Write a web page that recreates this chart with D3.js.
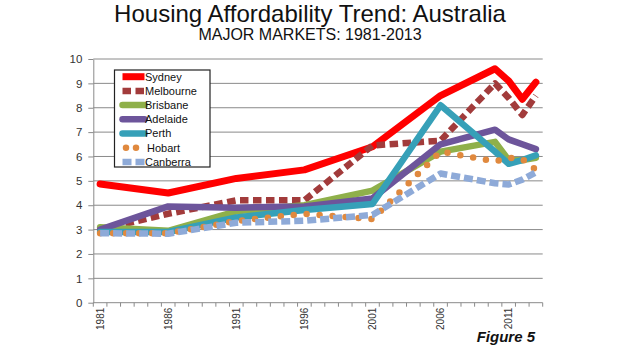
<!DOCTYPE html>
<html lang="en">
<head>
<meta charset="UTF-8">
<title>Housing Affordability Trend: Australia</title>
<script src="https://cdn.jsdelivr.net/npm/d3@7"></script>
<style>
  body { margin: 0; background: #fff; }
  text { font-family: "Liberation Sans", Arial, sans-serif; }
</style>
</head>
<body>
<svg id="chart" width="620" height="349"></svg>
<script>
// categories on the x axis (one per year) and the labelled ones
const years = d3.range(1981, 2014);
const tickYears = [1981, 1986, 1991, 1996, 2001, 2006, 2011];

// years that carry a value in each series
const dataYears = [1981, 1986, 1991, 1996, 2001, 2006, 2010, 2011, 2012, 2013];

const sydney    = [4.87, 4.50, 5.10, 5.45, 6.40, 8.50, 9.60, 9.10, 8.35, 9.05];
const melbourne = [3.00, 3.65, 4.20, 4.20, 6.45, 6.65, 9.00, 8.40, 7.70, 8.50];
const brisbane  = [3.10, 2.95, 3.75, 4.00, 4.60, 6.20, 6.60, 5.85, 5.85, 5.95];
const adelaide  = [3.00, 3.95, 3.90, 3.95, 4.28, 6.50, 7.10, 6.70, 6.50, 6.30];
const perth     = [2.90, 2.90, 3.50, 3.80, 4.05, 8.10, 6.20, 5.70, 5.85, 6.05];
const hobart    = [2.85, 2.85, 3.35, 3.65, 3.43, 6.20, 5.80, 5.95, 5.90, 5.45];
const canberra  = [2.85, 2.83, 3.28, 3.36, 3.60, 5.30, 4.90, 4.85, 5.05, 5.35];

const seriesNames = ["Sydney", "Melbourne", "Brisbane", "Adelaide", "Perth", "Hobart", "Canberra"];
const yTicks = d3.range(0, 11);

const styles = {
  Sydney:    { color: "#ff0000", width: 7,   dash: null,     cap: "round" },
  Melbourne: { color: "#a23b3b", width: 6.5, dash: "8.5 4.5", cap: "butt" },
  Brisbane:  { color: "#8fb04a", width: 6.5, dash: null,     cap: "round" },
  Adelaide:  { color: "#6d559b", width: 6.5, dash: null,     cap: "round" },
  Perth:     { color: "#36a0b8", width: 6.5, dash: null,     cap: "round" },
  Hobart:    { color: "#e0893e", width: 6.5, dash: "0 13",   cap: "round" },
  Canberra:  { color: "#8eaad8", width: 6.5, dash: "9 4",    cap: "butt" }
};

const values = [sydney, melbourne, brisbane, adelaide, perth, hobart, canberra];
const series = seriesNames.map((name, i) => ({
  name: name,
  points: dataYears.map((yr, j) => ({ year: yr, v: values[i][j] }))
}));

const svg = d3.select("#chart");

const plotLeft = 93.3, plotRight = 542.7, plotTop = 59, plotBottom = 302.7;

const x = d3.scaleBand().domain(years).range([plotLeft, plotRight]);
const y = d3.scaleLinear().domain([0, 10]).range([plotBottom, plotTop]);
const cx = d => x(d) + x.bandwidth() / 2;

// titles
svg.append("text")
  .attr("x", 310).attr("y", 22)
  .attr("text-anchor", "middle")
  .attr("font-size", 24)
  .attr("fill", "#111")
  .text("Housing Affordability Trend: Australia");

svg.append("text")
  .attr("x", 310).attr("y", 39.5)
  .attr("text-anchor", "middle")
  .attr("font-size", 16)
  .attr("fill", "#111")
  .text("MAJOR MARKETS: 1981-2013");

// gridlines
svg.append("g")
  .selectAll("line")
  .data(yTicks.filter(t => t > 0))
  .enter()
  .append("line")
  .attr("x1", plotLeft).attr("x2", plotRight)
  .attr("y1", d => y(d)).attr("y2", d => y(d))
  .attr("stroke", "#8a8a8a")
  .attr("stroke-width", 1);

// y axis
const yAxis = svg.append("g")
  .attr("transform", `translate(${plotLeft},0)`)
  .call(d3.axisLeft(y).tickValues(yTicks).tickSize(5).tickSizeOuter(0).tickPadding(6));
yAxis.select(".domain").attr("stroke", "#8a8a8a");
yAxis.selectAll(".tick line").attr("stroke", "#8a8a8a");
yAxis.selectAll(".tick text")
  .attr("font-size", 11.5)
  .attr("fill", "#333")
  .attr("font-family", "Liberation Sans, Arial, sans-serif");

// x axis: line, ticks between categories, labels every five years
const xg = svg.append("g");
xg.append("line")
  .attr("x1", plotLeft).attr("x2", plotRight)
  .attr("y1", plotBottom).attr("y2", plotBottom)
  .attr("stroke", "#8a8a8a");
xg.selectAll("line.tk")
  .data(years.concat([years[years.length - 1] + 1]))
  .enter()
  .append("line")
  .attr("class", "tk")
  .attr("x1", (d, i) => i < years.length ? x(d) : plotRight)
  .attr("x2", (d, i) => i < years.length ? x(d) : plotRight)
  .attr("y1", plotBottom).attr("y2", plotBottom + 4)
  .attr("stroke", "#8a8a8a");
xg.selectAll("text")
  .data(tickYears)
  .enter()
  .append("text")
  .attr("transform", d => `translate(${cx(d) + 3.5},${plotBottom + 5}) rotate(-90)`)
  .attr("text-anchor", "end")
  .attr("font-size", 10)
  .attr("fill", "#333")
  .text(d => d);

// lines
const line = d3.line()
  .x(d => cx(d.year))
  .y(d => y(d.v));

svg.append("g")
  .selectAll("path")
  .data(series)
  .enter()
  .append("path")
  .attr("d", d => line(d.points))
  .attr("fill", "none")
  .attr("stroke", d => styles[d.name].color)
  .attr("stroke-width", d => styles[d.name].width)
  .attr("stroke-dasharray", d => styles[d.name].dash)
  .attr("stroke-linecap", d => styles[d.name].cap)
  .attr("stroke-linejoin", "round");

// legend
const lg = svg.append("g");
lg.append("rect")
  .attr("x", 114.5).attr("y", 70)
  .attr("width", 95.5).attr("height", 97)
  .attr("fill", "#fff")
  .attr("stroke", "#222")
  .attr("stroke-width", 1.2);

const rows = lg.selectAll("g.row")
  .data(seriesNames)
  .enter()
  .append("g")
  .attr("class", "row")
  .attr("transform", (d, i) => `translate(0,${76.7 + i * 14.2})`);

rows.append("line")
  .attr("x1", d => d === "Hobart" ? 126 : 122.5)
  .attr("x2", 144.5)
  .attr("y1", 0).attr("y2", 0)
  .attr("stroke", d => styles[d].color)
  .attr("stroke-width", d => styles[d].width)
  .attr("stroke-dasharray", d => d === "Hobart" ? "0 10" : styles[d].dash)
  .attr("stroke-linecap", d => d === "Sydney" ? "butt" : styles[d].cap);

rows.append("text")
  .attr("x", d => d === "Hobart" ? 147 : 145)
  .attr("y", 0)
  .attr("dy", "0.35em")
  .attr("font-size", 11)
  .attr("fill", "#111")
  .text(d => d);

// figure number
svg.append("text")
  .attr("x", 535).attr("y", 342)
  .attr("text-anchor", "end")
  .attr("font-size", 15)
  .attr("font-weight", "bold")
  .attr("font-style", "italic")
  .attr("fill", "#111")
  .text("Figure 5");
</script>
</body>
</html>
